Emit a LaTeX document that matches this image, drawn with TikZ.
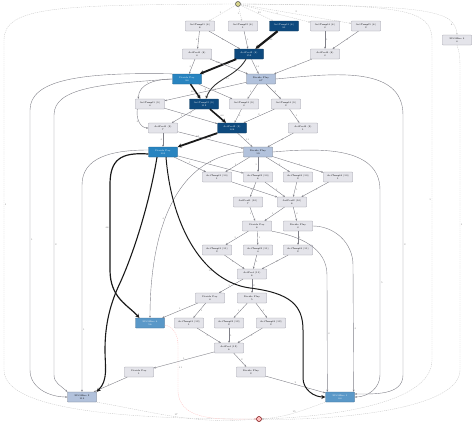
\documentclass[tikz,border=0pt]{standalone}
\usetikzlibrary{arrows.meta}
\definecolor{dblue}{RGB}{14,74,126}
\definecolor{mblue}{RGB}{40,132,192}
\definecolor{sblue}{RGB}{90,152,200}
\definecolor{lblue}{RGB}{178,194,220}
\definecolor{gfill}{RGB}{228,228,234}
\definecolor{gline}{RGB}{150,150,162}
\definecolor{eline}{RGB}{128,128,136}

\begin{document}
\begin{tikzpicture}[x=1pt,y=-1pt]
\tikzstyle{every node}+=[inner sep=0pt]
\tikzstyle{act}=[draw=gline, fill=gfill, line width=0.3pt, rounded corners=0.6pt, minimum width=29pt, minimum height=10pt, align=center, font=\fontsize{2.3}{2.7}\selectfont]
\tikzstyle{dk}=[act, fill=dblue, draw=dblue!70!black, text=white]
\tikzstyle{md}=[act, fill=mblue, draw=mblue!70!black, text=white]
\tikzstyle{sb}=[act, fill=sblue, draw=sblue!70!black, text=white]
\tikzstyle{lt}=[act, fill=lblue, draw=lblue!60!black]
\tikzstyle{fl}=[draw=eline, line width=0.4pt, -{Stealth[length=2.2pt,width=1.8pt]}]
\tikzstyle{md1}=[draw=black!80, line width=0.9pt, -{Stealth[length=3pt,width=2.6pt]}]
\tikzstyle{hv}=[draw=black!90, line width=1.5pt, -{Stealth[length=4pt,width=4pt]}]
\tikzstyle{dsh}=[draw=gray!45, line width=0.35pt, dash pattern=on 1.2pt off 0.9pt, -{Stealth[length=2pt,width=1.6pt]}]
\tikzstyle{lab}=[font=\fontsize{2.3}{2.6}\selectfont, text=gray!85!black, inner sep=0.8pt]
\useasboundingbox (0,0) rectangle (474,423);

\node[circle, draw=gray!60!black, fill=olive!35, line width=0.5pt, minimum size=5pt] (s) at (238,4) {};
\node[circle, draw=red!45!black, fill=red!25, line width=0.5pt, minimum size=5pt] (e) at (259,419) {};

\node[act] (n11) at (200,26) {ActTempl1 (8)\\8};
\node[act] (n12) at (243,26) {ActTempl2 (8)\\1};
\node[dk] (n13) at (284,26) {ActTempl3 (8)\\91};
\node[act] (n14) at (325,26) {ActTempl4 (8)\\3};
\node[act] (n15) at (366,26) {ActTempl5 (8)\\2};
\node[act] (sd3) at (457,40) {SDOffice 3\\4};
\node[act] (n21) at (197,54) {ActPerf1 (8)\\4};
\node[dk] (n22) at (249,54) {ActPerf2 (8)\\152};
\node[act] (n23) at (325,54) {ActPerf3 (8)\\3};
\node[md] (n31) at (187,79) {Divide Pay\\94};
\node[lt] (n32) at (261,79) {Divide Play\\67};
\node[act] (n41) at (150,104) {ActTempl1 (9)\\4};
\node[dk] (n42) at (204,104) {ActTempl2 (9)\\112};
\node[act] (n43) at (244,104) {ActTempl3 (9)\\3};
\node[act] (n44) at (286,104) {ActTempl4 (9)\\2};
\node[act] (n51) at (163,128) {ActPerf1 (9)\\7};
\node[dk] (n52) at (232,128) {ActPerf2 (9)\\136};
\node[act] (n53) at (303,128) {ActPerf3 (9)\\1};
\node[md] (n61) at (163,152) {Divide Pay\\101};
\node[lt] (n62) at (258,152) {Divide Play\\19};
\node[act] (n71) at (217,177) {ActTempl1 (10)\\1};
\node[act] (n72) at (258,177) {ActTempl2 (10)\\8};
\node[act] (n73) at (298,177) {ActTempl3 (10)\\2};
\node[act] (n74) at (338,177) {ActTempl4 (10)\\1};
\node[act] (n81) at (248,202) {ActPerf1 (10)\\7};
\node[act] (n82) at (292,202) {ActPerf2 (10)\\8};
\node[act] (n91) at (257,226) {Divide Pay\\8};
\node[act] (n92) at (298,226) {Divide Play\\3};
\node[act] (n101) at (217,250) {ActTempl1 (11)\\2};
\node[act] (n102) at (258,250) {ActTempl2 (11)\\4};
\node[act] (n103) at (298,250) {ActTempl3 (11)\\2};
\node[act] (n111) at (252,274) {ActPerf (11)\\8};
\node[act] (n121) at (210,298) {Divide Pay\\4};
\node[act] (n122) at (252,298) {Divide Play\\5};
\node[sb] (n131) at (150,323) {SDOffice 4\\56};
\node[act] (n132) at (189,323) {ActTempl1 (12)\\1};
\node[act] (n133) at (229,323) {ActTempl2 (12)\\2};
\node[act] (n134) at (271,323) {ActTempl3 (12)\\2};
\node[act] (n141) at (229,348) {ActPerf (12)\\6};
\node[act] (n151) at (139,372) {Divide Pay\\1};
\node[act] (n152) at (251,372) {Divide Play\\2};
\node[lt] (b1) at (82,397) {SDOffice 2\\113};
\node[sb] (b2) at (340,397) {SDOffice 1\\84};

\draw[dsh] (s) -- node[lab,left]{1} (n11);
\draw[dsh] (s) -- node[lab,left]{1} (n12);
\draw[dsh] (s) -- node[lab,right]{91} (n13);
\draw[dsh] (s) -- node[lab,right]{1} (n14);
\draw[dsh] (s) -- node[lab,above]{2} (n15);
\draw[dsh] (s.east) .. controls (420,6) and (455,8) .. node[lab,pos=0.85,left]{4} (sd3.north);
\draw[dsh] (s.west) .. controls (60,5) and (4,6) .. (4,40) -- node[lab,right]{1} (4,370) .. controls (4,414) and (150,419) .. (e.west);
\draw[dsh] (s.east) .. controls (400,5) and (432,8) .. (432,40) -- node[lab,left]{1} (432,360) .. controls (432,410) and (300,418) .. (e.east);
\draw[dsh] (sd3.south) .. controls (460,55) .. (460,80) -- node[lab,right]{1} (460,370) .. controls (460,412) and (320,421) .. (e.east);
\draw[dsh] (b1.south east) to[out=-10,in=185] node[lab,above]{17} (e.west);
\draw[dsh] (b2.south west) to[out=-160,in=5] node[lab,above]{15} (e.east);
\draw[dsh, draw=red!25] ([yshift=-2pt]n131.east) to[out=-10,in=90] (178,345) -- node[lab,right]{11} (178,390) to[out=-90,in=180] (e.west);

\draw[fl] (n11) -- node[lab,left]{4} (n21);
\draw[fl] (n11) -- node[lab,left]{2} (n22);
\draw[fl] (n12) -- node[lab,right]{1} (n22);
\draw[hv, line width=2.2pt] (n13) -- node[lab,right=1pt]{90} (n22);
\draw[fl] (n14) -- node[lab,right]{1} (n23);
\draw[fl] (n15) -- node[lab,right]{2} (n23);
\draw[fl] (n21) -- node[lab,left]{3} (n31);
\draw[hv, line width=1.9pt] (n22) -- node[lab,above=1pt]{88} (n31);
\draw[fl] (n21) -- node[lab,above]{1} (n32);
\draw[fl] (n22) -- node[lab,right]{13} (n32);
\draw[fl] (n23) -- node[lab,right]{2} (n32);
\draw[fl] (n31.west) to[out=180,in=90] node[lab,left]{1} ([xshift=3pt]n41.north west);
\draw[fl] (n32) -- node[lab,above]{2} (n41);
\draw[md1] (n22) to[out=-120,in=70] node[lab,right]{11} (n42);
\draw[hv, line width=1.4pt] (n31) -- node[lab,left]{46} (n42);
\draw[fl] (n31) -- node[lab,above]{2} (n43);
\draw[fl] (n32) -- node[lab,left]{1} (n43);
\draw[fl] (n32) -- node[lab,right]{2} (n44);
\draw[fl] ([xshift=2pt]n41.south west) to[out=-100,in=180] node[lab,left]{3} (n51.west);
\draw[fl] (n42) -- node[lab,left]{1} (n51);
\draw[fl] (n41) -- node[lab,above]{7} (n52);
\draw[hv, line width=1.6pt] (n42) -- node[lab,right=1pt]{64} (n52);
\draw[fl] (n43) -- node[lab,right]{1} (n52);
\draw[fl] (n44) -- node[lab,above]{2} (n52);
\draw[fl] (n44) -- node[lab,right]{1} (n53);
\draw[fl] (n51) -- node[lab,left]{3} (n61);
\draw[hv, line width=1.8pt] (n52) -- node[lab,above=1pt]{67} (n61);
\draw[fl] (n51) -- node[lab,above]{3} (n62);
\draw[fl] (n52) -- node[lab,right]{11} (n62);
\draw[fl] (n53) -- node[lab,right]{1} (n62);
\draw[fl] (n61) -- node[lab,above]{1} (n71);
\draw[fl] (n61) -- node[lab,above]{1} (n72);
\draw[fl] (n62) -- node[lab,left]{1} (n71);
\draw[fl] (n62) -- node[lab,left]{1} (n72);
\draw[fl] (n62) -- node[lab,right]{1} (n73);
\draw[fl] (n62) -- node[lab,right]{1} (n74);
\draw[fl] (n71) -- node[lab,above]{1} (n82);
\draw[fl] (n72) -- node[lab,left]{1} (n81);
\draw[fl] (n72) -- node[lab,right]{1} (n82);
\draw[fl] (n73) -- node[lab,right]{1} (n82);
\draw[fl] (n74) -- node[lab,right]{1} (n82);
\draw[fl] (n81) -- node[lab,left]{1} (n91);
\draw[fl] (n82) -- node[lab,left]{1} (n91);
\draw[fl] (n82) -- node[lab,right]{3} (n92);
\draw[fl] (n91) -- node[lab,left]{1} (n101);
\draw[fl] (n91) -- node[lab,right]{1} (n102);
\draw[fl] (n92) -- node[lab,right]{1} (n103);
\draw[fl] (n101) -- node[lab,left]{1} (n111);
\draw[fl] (n102) -- node[lab,right]{1} (n111);
\draw[fl] (n103) -- node[lab,right]{2} (n111);
\draw[fl] (n111) -- node[lab,left]{1} (n121);
\draw[fl] (n111) -- node[lab,right]{2} (n122);
\draw[fl] (n121) -- node[lab,above]{1} (n131);
\draw[fl] (n121) -- node[lab,right]{1} (n132);
\draw[fl] (n122) -- node[lab,left]{1} (n133);
\draw[fl] (n122) -- node[lab,right]{1} (n134);
\draw[fl] (n132) -- node[lab,left]{1} (n141);
\draw[fl] (n133) -- node[lab,right]{1} (n141);
\draw[fl] (n134) -- node[lab,right]{1} (n141);
\draw[fl] (n141) -- node[lab,above]{1} (n151);
\draw[fl] (n141) -- node[lab,right]{2} (n152);
\draw[fl] (n151) -- node[lab,left]{1} (b1);
\draw[fl] (n152) -- node[lab,above]{2} (b2);

\draw[fl] (n31.north west) .. controls (80,72) and (30,80) .. (30,110) -- node[lab,right]{1} (30,370) to[out=-90,in=180] (b1.west);
\draw[fl] (n31.west) .. controls (100,84) and (54,88) .. (54,115) -- node[lab,right]{2} (54,375) to[out=-90,in=135] (b1.north west);
\draw[fl] ([yshift=2pt]n61.west) .. controls (110,150) and (82,158) .. (82,185) -- node[lab,right,pos=0.7]{1} (b1.north);
\draw[hv, line width=1.2pt] ([yshift=-2pt]n61.west) .. controls (120,152) and (110,160) .. (110,185) -- node[lab,left]{48} (110,270) .. controls (110,298) and (128,305) .. ([xshift=4pt]n131.north west);
\draw[hv, line width=1.1pt] ([xshift=-6pt]n61.south) .. controls (150,200) and (135,250) .. (120,283) .. controls (108,308) and (105,330) .. (105,350) to[out=-90,in=45] (b1.north east);
\draw[fl] (n62.west) to[out=185,in=90] node[lab,pos=0.55,left]{4} (n131.north);
\draw[hv, line width=1pt] ([xshift=3pt]n61.south) .. controls (172,230) and (205,282) .. node[lab,pos=0.7,left]{10} (250,288) .. controls (290,293) and (303,305) .. (303,330) -- (303,378) to[out=-90,in=180] (b2.west);
\draw[fl] (n91.south east) to[out=-10,in=90] (327,275) -- node[lab,right]{3} ([xshift=2pt]b2.north west);
\draw[fl] (n92.east) to[out=0,in=90] (353,265) -- node[lab,right]{3} ([xshift=-1pt]b2.north east);
\draw[fl] (n62.east) to[out=5,in=90] (380,190) -- node[lab,right]{5} (380,375) to[out=-90,in=0] (b2.east);
\draw[fl] (n32.east) to[out=5,in=90] (403,115) -- node[lab,right]{2} (403,375) to[out=-90,in=0] ([yshift=3pt]b2.east);
\end{tikzpicture}
\end{document}
